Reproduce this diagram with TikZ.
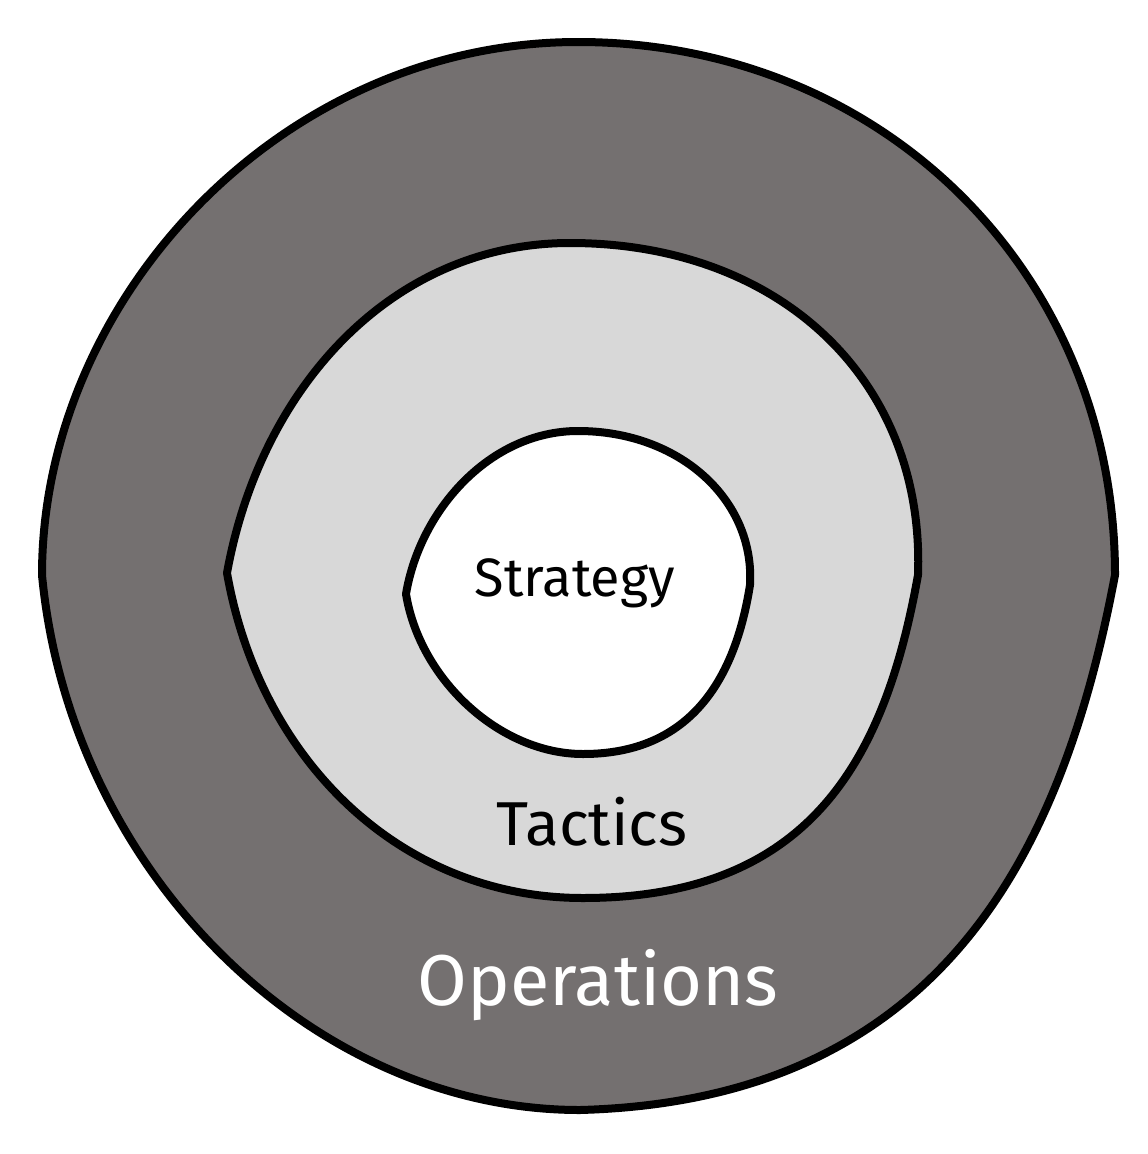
\documentclass[tikz,border=0pt]{standalone}
\usepackage{fontspec}
\setmainfont{Fira Sans}
\begin{document}
\begin{tikzpicture}[x=1pt,y=-1pt,line join=round,
  ring/.style={draw=black,line width=8pt},
  lbl/.style={font=\fontsize{#1}{#1}\selectfont,inner sep=0pt}]
\useasboundingbox[fill=white] (0,0) rectangle (1148,1154);
\path[ring,fill={rgb,255:red,116;green,112;blue,112}]
  (578,42) .. controls (280,42) and (42,300) .. (42,575)
  .. controls (70,870) and (310,1110) .. (580,1110)
  .. controls (950,1100) and (1065,840) .. (1115,575)
  .. controls (1115,270) and (880,42) .. cycle;
\path[ring,fill={rgb,255:red,216;green,216;blue,216}]
  (570,243) .. controls (390,243) and (260,390) .. (227,573)
  .. controls (260,760) and (400,898) .. (583,898)
  .. controls (810,898) and (885,760) .. (918,575)
  .. controls (925,380) and (780,243) .. cycle;
\path[ring,fill=white]
  (578,431) .. controls (490,431) and (420,510) .. (406,594)
  .. controls (420,680) and (500,754) .. (583,754)
  .. controls (690,754) and (735,680) .. (750,585)
  .. controls (755,500) and (680,431) .. cycle;
\node[lbl=54] (s) at (575,583) {Strategy};
\node[lbl=62] (t) at (592,822) {Tactics};
\node[lbl=72,text=white] (o) at (598,985) {Operations};
\end{tikzpicture}
\end{document}
